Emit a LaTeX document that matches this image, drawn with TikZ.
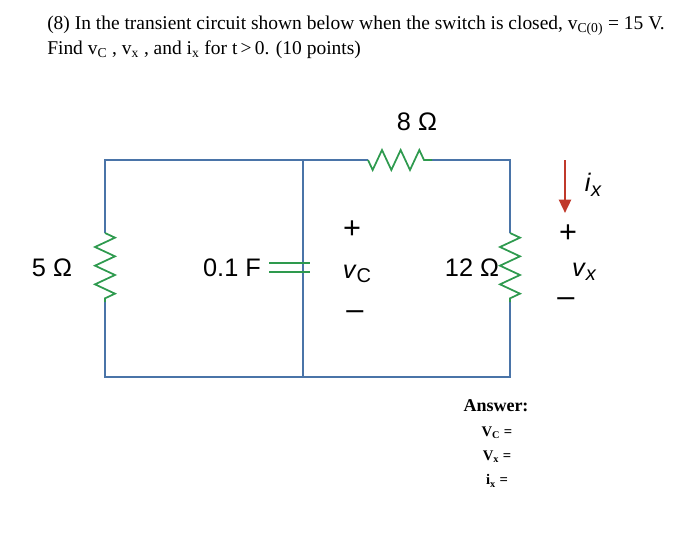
\documentclass[tikz,border=0pt]{standalone}
\usepackage{fontspec}
\setmainfont{Liberation Serif}
\newfontfamily\cirfont{Liberation Sans}
\usetikzlibrary{decorations.pathmorphing,arrows.meta}
\definecolor{wire}{HTML}{4A74A8}
\definecolor{res}{HTML}{2E9A4E}
\definecolor{arr}{HTML}{C0392B}
\tikzset{
 wirel/.style={draw=wire,line width=1.3pt},
 zig/.style={draw=res,line width=1.3pt,decorate,decoration={zigzag,segment length=14pt,amplitude=7.5pt}},
 lbl/.style={font=\cirfont\fontsize{19}{22}\selectfont,inner sep=0pt},
 sgn/.style={font=\cirfont\fontsize{23}{25}\selectfont,inner sep=0pt},
 hdr/.style={font=\fontsize{14.6}{17}\selectfont,anchor=west,inner sep=0pt},
 ans/.style={font=\fontsize{11}{13}\selectfont\bfseries,inner sep=0pt}
}
\begin{document}
\begin{tikzpicture}[x=0.75pt,y=-0.75pt]
\useasboundingbox (0,0) rectangle (696,546);
\node[hdr] (h1) at (47,26) {(8) In the transient circuit shown below when the switch is closed, v\textsubscript{C(0)} = 15 V.};
\node[hdr] (h2) at (47,50) {Find v\textsubscript{C} , v\textsubscript{x} , and i\textsubscript{x} for t\,>\,0. (10 points)};
\coordinate (tl) at (105,160); \coordinate (tm) at (303,160); \coordinate (tr) at (510,160);
\coordinate (bl) at (105,377); \coordinate (bm) at (303,377); \coordinate (br) at (510,377);
\coordinate (l1) at (105,233); \coordinate (l2) at (105,302);
\coordinate (r1) at (510,233); \coordinate (r2) at (510,302);
\coordinate (t1) at (368,160); \coordinate (t2) at (432,160);
\draw[wirel] (l1) -- (tl) -- (t1);
\draw[wirel] (t2) -- (tr) -- (r1);
\draw[wirel] (l2) -- (bl) -- (br) -- (r2);
\draw[wirel] (tm) -- (bm);
\draw[zig] (l1) -- (l2);
\draw[zig] (r1) -- (r2);
\draw[zig,decoration={mirror}] (t1) -- (t2);
\coordinate (c1) at (269,263); \coordinate (c2) at (310,263);
\coordinate (c3) at (269,272); \coordinate (c4) at (310,272);
\draw[draw=res,line width=1.4pt] (c1) -- (c2) (c3) -- (c4);
\node[lbl] (r5) at (52,268) {5 Ω};
\node[lbl] (cap) at (232,268) {0.1 F};
\node[lbl] (r8) at (417,122) {8 Ω};
\node[lbl] (r12) at (472,268) {12 Ω};
\node[sgn] (cp) at (352,230) {+};
\node[lbl] (vc) at (357,274) {\textit{v}\raisebox{-0.3ex}{\fontsize{15}{17}\selectfont C}};
\node[sgn] (cm) at (355,315) {–};
\node[sgn] (xp) at (568,234) {+};
\node[lbl] (vx) at (584,272) {\textit{v}\raisebox{-0.3ex}{\fontsize{15}{17}\selectfont\itshape x}};
\node[sgn] (xm) at (566,302) {–};
\coordinate (a1) at (565,160); \coordinate (a2) at (565,213);
\draw[draw=arr,line width=1.8pt,-{Triangle[length=10pt,width=9pt]}] (a1) -- (a2);
\node[lbl] (ix) at (593,185) {\textit{i}\raisebox{-0.4ex}{\fontsize{15}{17}\selectfont\itshape x}};
\node[ans,font=\fontsize{13.5}{15}\selectfont\bfseries] (an) at (496,406) {Answer:};
\node[ans] (a) at (497,433) {V\textsubscript{C} =};
\node[ans] (b) at (497,457) {V\textsubscript{x} =};
\node[ans] (c) at (497,481) {i\textsubscript{x} =};
\end{tikzpicture}
\end{document}
